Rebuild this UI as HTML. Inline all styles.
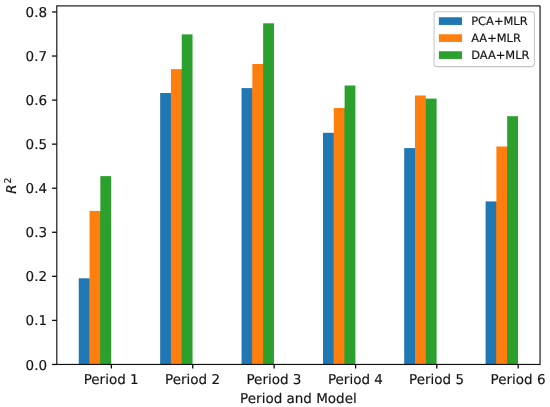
<!DOCTYPE html>
<html lang="en">
<head>
<meta charset="utf-8">
<title>R2 by Period and Model</title>
<style>
html,body{margin:0;padding:0;background:#fff;}
svg{display:block;}
text{font-family:"DejaVu Sans","Liberation Sans",sans-serif;fill:#141414;stroke:#141414;stroke-width:0.17px;text-rendering:geometricPrecision;}
.tk{font-size:13.5px;}
.lg{font-size:11.45px;}
</style>
</head>
<body>
<svg width="550" height="407" viewBox="0 0 550 407">
<rect x="0" y="0" width="550" height="407" fill="#ffffff"/>
<g shape-rendering="auto">
<rect x="88.75" y="278.90" width="1.60" height="85.55" fill="#ff7f0e"/>
<rect x="99.55" y="211.50" width="1.60" height="152.95" fill="#2ca02c"/>
<rect x="78.75" y="278.30" width="10.80" height="86.15" fill="#1f77b4"/>
<rect x="89.55" y="210.90" width="10.80" height="153.55" fill="#ff7f0e"/>
<rect x="100.35" y="176.10" width="10.80" height="188.35" fill="#2ca02c"/>
<rect x="170.15" y="93.60" width="1.60" height="270.85" fill="#ff7f0e"/>
<rect x="180.95" y="69.70" width="1.60" height="294.75" fill="#2ca02c"/>
<rect x="160.15" y="93.00" width="10.80" height="271.45" fill="#1f77b4"/>
<rect x="170.95" y="69.10" width="10.80" height="295.35" fill="#ff7f0e"/>
<rect x="181.75" y="34.40" width="10.80" height="330.05" fill="#2ca02c"/>
<rect x="251.55" y="88.70" width="1.60" height="275.75" fill="#ff7f0e"/>
<rect x="262.35" y="64.60" width="1.60" height="299.85" fill="#2ca02c"/>
<rect x="241.55" y="88.10" width="10.80" height="276.35" fill="#1f77b4"/>
<rect x="252.35" y="64.00" width="10.80" height="300.45" fill="#ff7f0e"/>
<rect x="263.15" y="23.30" width="10.80" height="341.15" fill="#2ca02c"/>
<rect x="333.00" y="133.40" width="1.60" height="231.05" fill="#ff7f0e"/>
<rect x="343.80" y="108.60" width="1.60" height="255.85" fill="#2ca02c"/>
<rect x="323.00" y="132.80" width="10.80" height="231.65" fill="#1f77b4"/>
<rect x="333.80" y="108.00" width="10.80" height="256.45" fill="#ff7f0e"/>
<rect x="344.60" y="85.50" width="10.80" height="278.95" fill="#2ca02c"/>
<rect x="414.20" y="148.70" width="1.60" height="215.75" fill="#ff7f0e"/>
<rect x="425.00" y="99.20" width="1.60" height="265.25" fill="#ff7f0e"/>
<rect x="404.20" y="148.10" width="10.80" height="216.35" fill="#1f77b4"/>
<rect x="415.00" y="95.50" width="10.80" height="268.95" fill="#ff7f0e"/>
<rect x="425.80" y="98.60" width="10.80" height="265.85" fill="#2ca02c"/>
<rect x="495.60" y="202.00" width="1.60" height="162.45" fill="#ff7f0e"/>
<rect x="506.40" y="147.10" width="1.60" height="217.35" fill="#2ca02c"/>
<rect x="485.60" y="201.40" width="10.80" height="163.05" fill="#1f77b4"/>
<rect x="496.40" y="146.50" width="10.80" height="217.95" fill="#ff7f0e"/>
<rect x="507.20" y="116.20" width="10.80" height="248.25" fill="#2ca02c"/>
</g>
<rect x="56.80" y="5.90" width="483.25" height="358.55" fill="none" stroke="#111111" stroke-width="1.15"/>
<g stroke="#0a0a0a" stroke-width="1.3">
<line x1="111.35" y1="364.45" x2="111.35" y2="368.50"/>
<line x1="192.75" y1="364.45" x2="192.75" y2="368.50"/>
<line x1="274.15" y1="364.45" x2="274.15" y2="368.50"/>
<line x1="355.60" y1="364.45" x2="355.60" y2="368.50"/>
<line x1="436.80" y1="364.45" x2="436.80" y2="368.50"/>
<line x1="518.20" y1="364.45" x2="518.20" y2="368.50"/>
<line x1="52.10" y1="364.45" x2="56.80" y2="364.45"/>
<line x1="52.10" y1="320.39" x2="56.80" y2="320.39"/>
<line x1="52.10" y1="276.33" x2="56.80" y2="276.33"/>
<line x1="52.10" y1="232.27" x2="56.80" y2="232.27"/>
<line x1="52.10" y1="188.21" x2="56.80" y2="188.21"/>
<line x1="52.10" y1="144.15" x2="56.80" y2="144.15"/>
<line x1="52.10" y1="100.09" x2="56.80" y2="100.09"/>
<line x1="52.10" y1="56.03" x2="56.80" y2="56.03"/>
<line x1="52.10" y1="11.97" x2="56.80" y2="11.97"/>
</g>
<text class="tk" x="111.15" y="383.90" text-anchor="middle">Period 1</text>
<text class="tk" x="192.55" y="383.90" text-anchor="middle">Period 2</text>
<text class="tk" x="273.95" y="383.90" text-anchor="middle">Period 3</text>
<text class="tk" x="355.40" y="383.90" text-anchor="middle">Period 4</text>
<text class="tk" x="436.60" y="383.90" text-anchor="middle">Period 5</text>
<text class="tk" x="518.00" y="383.90" text-anchor="middle">Period 6</text>
<text class="tk" x="47.05" y="369.50" text-anchor="end">0.0</text>
<text class="tk" x="47.05" y="325.44" text-anchor="end">0.1</text>
<text class="tk" x="47.05" y="281.38" text-anchor="end">0.2</text>
<text class="tk" x="47.05" y="237.32" text-anchor="end">0.3</text>
<text class="tk" x="47.05" y="193.26" text-anchor="end">0.4</text>
<text class="tk" x="47.05" y="149.20" text-anchor="end">0.5</text>
<text class="tk" x="47.05" y="105.14" text-anchor="end">0.6</text>
<text class="tk" x="47.05" y="61.08" text-anchor="end">0.7</text>
<text class="tk" x="47.05" y="17.02" text-anchor="end">0.8</text>
<text class="tk" x="298.42" y="402.50" text-anchor="middle">Period and Model</text>
<text class="tk" transform="translate(16.3,185.65) rotate(-90)" text-anchor="middle"><tspan font-style="italic">R</tspan><tspan font-size="9.4px" dx="0.7" dy="-5">2</tspan></text>
<rect x="434.1" y="11.8" width="100.3" height="54.8" rx="2.6" ry="2.6" fill="#ffffff" fill-opacity="0.8" stroke="#c6c6c6" stroke-width="1.05"/>
<rect x="438.85" y="17.25" width="23.2" height="7.7" fill="#1f77b4"/>
<text class="lg" x="471.2" y="24.95">PCA+MLR</text>
<rect x="438.85" y="34.25" width="23.2" height="7.7" fill="#ff7f0e"/>
<text class="lg" x="471.2" y="41.95">AA+MLR</text>
<rect x="438.85" y="51.25" width="23.2" height="7.7" fill="#2ca02c"/>
<text class="lg" x="471.2" y="58.95">DAA+MLR</text>
</svg>
</body>
</html>
